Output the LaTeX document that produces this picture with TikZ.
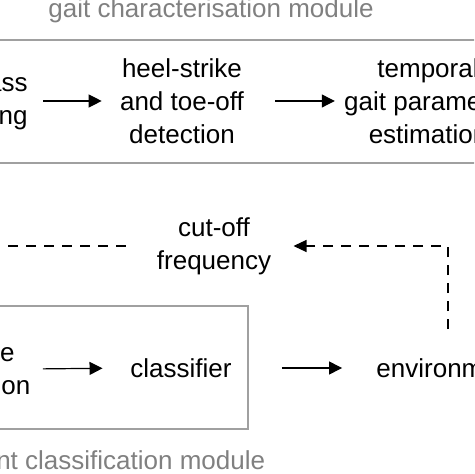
\documentclass[tikz,border=0pt]{standalone}
\usepackage{fontspec}
\setmainfont{Liberation Sans}
\usetikzlibrary{arrows.meta}
\definecolor{modgray}{HTML}{808080}
\definecolor{boxgray}{HTML}{A0A0A0}
\tikzset{
  stage/.style={align=center, inner sep=0pt, font=\fontsize{13}{16.5}\selectfont},
  modlabel/.style={anchor=base, inner sep=0pt, text=modgray, font=\fontsize{13}{16.5}\selectfont},
  modbox/.style={draw=boxgray, line width=0.7pt},
  flow/.style={-{Triangle[length=6.5pt,width=6.5pt]}, line width=0.6pt},
  feedline/.style={line width=0.6pt, dash pattern=on 5pt off 4pt},
  feedback/.style={feedline, -{Triangle[length=6.5pt,width=6pt]}}
}
\begin{document}
\begin{tikzpicture}[x=0.5pt, y=-0.5pt]
  \useasboundingbox (0,0) rectangle (474,474);
  \clip (0,0) rectangle (474,474);

  \draw[modbox] (-120,40) rectangle (545,163);
  \draw[modbox] (-98,306) rectangle (248,429);
  \node[modlabel] (gaitlabel) at (211,18) {gait characterisation module};
  \node[modlabel] (envlabel) at (70,469) {environment classification module};

  \node[stage, align=right, anchor=east] (lowpass) at (28,101) {low-pass\\filtering};
  \node[stage] (heel) at (182,101) {heel-strike\\and toe-off\\detection};
  \node[stage] (temporal) at (428,101) {temporal\\gait parameter\\estimation};
  \node[stage] (cutoff) at (214,246) {cut-off\\frequency};
  \node[stage] (feature) at (-26,369) {feature\\extraction};
  \node[stage] (classifier) at (181,368) {classifier};
  \node[stage] (environment) at (448,368) {environment};
  \coordinate (tofilter) at (-40,246);

  \draw[flow, shorten <=7.5pt, shorten >=9pt] (lowpass.east) -- (heel.west);
  \draw[flow, shorten <=15.5pt, shorten >=4.5pt] (heel.east) -- (temporal.west);
  \draw[flow, shorten <=6pt, shorten >=13.75pt] (feature.east) -- (classifier.west);
  \draw[flow, shorten <=25pt, shorten >=17pt] (classifier.east) -- (environment.west);
  \draw[feedback, shorten <=14.5pt, shorten >=11pt] (environment.north) |- (cutoff.east);
  \draw[feedline, shorten <=15.5pt] (cutoff.west) -- (tofilter);
\end{tikzpicture}
\end{document}
